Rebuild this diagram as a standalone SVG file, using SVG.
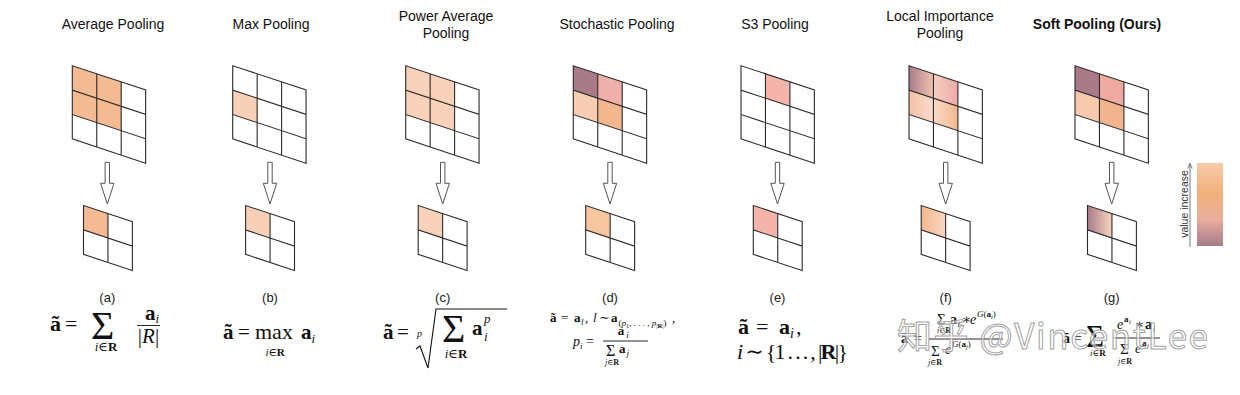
<svg xmlns="http://www.w3.org/2000/svg" xmlns:xlink="http://www.w3.org/1999/xlink" width="1240" height="395" viewBox="0 0 1240 395">
<style>
.title{font-family:"Liberation Sans",Arial,sans-serif;font-size:14px;fill:#111;text-anchor:middle}
.lbl{font-family:"Liberation Sans",Arial,sans-serif;font-size:13px;fill:#222;text-anchor:middle}
.m{font-family:"Liberation Serif","DejaVu Serif",serif;fill:#111}
.b{font-weight:bold}
.i{font-style:italic}
.grid{fill:none;stroke:#2a2a2a;stroke-width:1.1}
.arr{fill:#fff;stroke:#555;stroke-width:1}
.fl{stroke:#111;stroke-width:0.9}
</style>
<defs>
<path id="g3" class="grid" d="M0,0H73.35V73.2H0Z M24.45,0V73.2 M48.9,0V73.2 M0,24.4H73.35 M0,48.8H73.35"/>
<path id="g2" class="grid" d="M0,0H48.9V48.8H0Z M24.45,0V48.8 M0,24.4H48.9"/>
<path id="arr" class="arr" d="M-2.2,162.3H2.2V183.3H6.7L0,204L-6.7,183.3H-2.2Z"/>
<linearGradient id="lip00" x1="0" y1="0" x2="1" y2="0"><stop offset="0" stop-color="#a97b88"/><stop offset="1" stop-color="#f2c3b2"/></linearGradient>
<linearGradient id="lip01" x1="0" y1="0" x2="1" y2="0"><stop offset="0" stop-color="#f5cfc2"/><stop offset="1" stop-color="#eda9a6"/></linearGradient>
<linearGradient id="lip10" x1="0" y1="0" x2="1" y2="0"><stop offset="0" stop-color="#f4c1a5"/><stop offset="1" stop-color="#fadbcb"/></linearGradient>
<linearGradient id="lip11" x1="0" y1="0" x2="1" y2="0"><stop offset="0" stop-color="#fadac7"/><stop offset="1" stop-color="#f2b78e"/></linearGradient>
<linearGradient id="lipout" x1="0" y1="0" x2="1" y2="0"><stop offset="0" stop-color="#f2b88f"/><stop offset="1" stop-color="#f9d7c3"/></linearGradient>
<linearGradient id="softout" x1="0" y1="0" x2="1" y2="0"><stop offset="0" stop-color="#a97b88"/><stop offset="1" stop-color="#f8d4be"/></linearGradient>
<linearGradient id="legend" x1="0" y1="0" x2="0" y2="1"><stop offset="0" stop-color="#f6cbab"/><stop offset="0.35" stop-color="#f1b17b"/><stop offset="0.68" stop-color="#e9ae9c"/><stop offset="1" stop-color="#a57b8a"/></linearGradient>
<marker id="ah" markerWidth="6" markerHeight="6" refX="5" refY="3" orient="auto" markerUnits="userSpaceOnUse"><path d="M0,0.8L5,3L0,5.2" fill="none" stroke="#555" stroke-width="0.8"/></marker>
</defs>
<rect width="1240" height="395" fill="#fff"/>

<g id="connectors">
<use xlink:href="#arr" href="#arr" x="107.3"/>
<use xlink:href="#arr" href="#arr" x="270"/>
<use xlink:href="#arr" href="#arr" x="442.7"/>
<use xlink:href="#arr" href="#arr" x="610"/>
<use xlink:href="#arr" href="#arr" x="777.5"/>
<use xlink:href="#arr" href="#arr" x="945.7"/>
<use xlink:href="#arr" href="#arr" x="1111.7"/>
</g>

<g id="avg-pool">
<text class="title" x="113" y="29">Average Pooling</text>
<g transform="matrix(1 0.331 0 1 72.3 65.7)">
<rect x="0" y="0" width="24.45" height="24.4" fill="#f4ba92"/><rect x="24.45" y="0" width="24.45" height="24.4" fill="#f4ba92"/>
<rect x="0" y="24.4" width="24.45" height="24.4" fill="#f4ba92"/><rect x="24.45" y="24.4" width="24.45" height="24.4" fill="#f4ba92"/>
<use xlink:href="#g3" href="#g3"/></g>
<g transform="matrix(1 0.331 0 1 83.5 205.5)"><rect width="24.45" height="24.4" fill="#f4ba92"/><use xlink:href="#g2" href="#g2"/></g>
<text class="lbl" x="107.3" y="302">(a)</text>
<text class="m b" x="50" y="331" font-size="22">ã</text>
<text class="m" x="65" y="331" font-size="22">=</text>
<text class="m" x="91" y="339" font-size="40">Σ</text>
<text class="m" x="106" y="351" font-size="13" text-anchor="middle"><tspan class="i">i</tspan>∈<tspan class="b">R</tspan></text>
<text class="m" x="145" y="320" font-size="21"><tspan class="b">a</tspan><tspan class="i" font-size="13" y="323">i</tspan></text>
<line class="fl" x1="137" y1="325.5" x2="160" y2="325.5"/>
<text class="m" x="148.5" y="343" font-size="21" text-anchor="middle">|<tspan class="i">R</tspan>|</text>
</g>

<g id="max-pool">
<text class="title" x="271" y="29">Max Pooling</text>
<g transform="matrix(1 0.331 0 1 232.7 65.7)">
<rect x="0" y="24.4" width="24.45" height="24.4" fill="#f8d0b8"/>
<use xlink:href="#g3" href="#g3"/></g>
<g transform="matrix(1 0.331 0 1 245.6 205.5)"><rect width="24.45" height="24.4" fill="#f8d0b8"/><use xlink:href="#g2" href="#g2"/></g>
<text class="lbl" x="270" y="302">(b)</text>
<text class="m b" x="223" y="339" font-size="21">ã</text>
<text class="m" x="238" y="339" font-size="21">=</text>
<text class="m" x="255" y="339" font-size="22">max</text>
<text class="m" x="301" y="339" font-size="21"><tspan class="b">a</tspan><tspan class="i" font-size="13" y="343">i</tspan></text>
<text class="m" x="275" y="356" font-size="11" text-anchor="middle"><tspan class="i">i</tspan>∈<tspan class="b">R</tspan></text>
</g>

<g id="power-avg-pool">
<text class="title" x="446" y="21">Power Average</text>
<text class="title" x="446" y="38">Pooling</text>
<g transform="matrix(1 0.331 0 1 405.7 65.7)">
<rect x="0" y="0" width="24.45" height="24.4" fill="#f8d1bb"/><rect x="24.45" y="0" width="24.45" height="24.4" fill="#f8d1bb"/>
<rect x="0" y="24.4" width="24.45" height="24.4" fill="#f8d1bb"/><rect x="24.45" y="24.4" width="24.45" height="24.4" fill="#f8d1bb"/>
<use xlink:href="#g3" href="#g3"/></g>
<g transform="matrix(1 0.331 0 1 418.2 205.5)"><rect width="24.45" height="24.4" fill="#f8d1bb"/><use xlink:href="#g2" href="#g2"/></g>
<text class="lbl" x="442.7" y="302">(c)</text>
<text class="m b" x="383" y="339" font-size="21">ã</text>
<text class="m" x="397" y="339" font-size="21">=</text>
<path d="M416,349L420,346L428,368L436,309H507" fill="none" stroke="#111" stroke-width="1.1"/>
<text class="m i" x="417" y="337" font-size="10">p</text>
<text class="m" x="442" y="342" font-size="40">Σ</text>
<text class="m b" x="472" y="335" font-size="21">a</text>
<text class="m i" x="484" y="323" font-size="13">p</text>
<text class="m i" x="484" y="341" font-size="13">i</text>
<text class="m" x="456" y="358" font-size="13" text-anchor="middle"><tspan class="i">i</tspan>∈<tspan class="b">R</tspan></text>
</g>

<g id="stochastic-pool">
<text class="title" x="617" y="29">Stochastic Pooling</text>
<g transform="matrix(1 0.331 0 1 573.3 65.7)">
<rect x="0" y="0" width="24.45" height="24.4" fill="#a97b88"/><rect x="24.45" y="0" width="24.45" height="24.4" fill="#f0b0aa"/>
<rect x="0" y="24.4" width="24.45" height="24.4" fill="#f7cdb4"/><rect x="24.45" y="24.4" width="24.45" height="24.4" fill="#f2b78c"/>
<use xlink:href="#g3" href="#g3"/></g>
<g transform="matrix(1 0.331 0 1 585.7 205.5)"><rect width="24.45" height="24.4" fill="#f5c6a0"/><use xlink:href="#g2" href="#g2"/></g>
<text class="lbl" x="610" y="302">(d)</text>
<text class="m b" x="550" y="322" font-size="13">ã</text>
<text class="m" x="561" y="322" font-size="13">=</text>
<text class="m b" x="574" y="322" font-size="13">a</text>
<text class="m i" x="581" y="325" font-size="9">l</text>
<text class="m" x="585" y="322" font-size="13">,</text>
<text class="m i" x="593" y="322" font-size="13">l</text>
<text class="m" x="599" y="322" font-size="13">∼</text>
<text class="m b" x="611" y="322" font-size="13">a</text>
<text class="m" y="326" font-size="9"><tspan x="618.5">(</tspan><tspan class="i">p</tspan><tspan font-size="6.5" y="328">1</tspan><tspan y="326">, . . . , </tspan><tspan class="i">p</tspan><tspan font-size="6.5" y="328">|<tspan class="b">R</tspan>|</tspan><tspan y="326">)</tspan></text>
<text class="m" x="672" y="322" font-size="13">,</text>
<text class="m i" x="573" y="346" font-size="14">p</text>
<text class="m i" x="580" y="349" font-size="9">i</text>
<text class="m" x="586" y="346" font-size="14">=</text>
<text class="m" x="621" y="335" font-size="13" text-anchor="middle"><tspan class="b">a</tspan><tspan class="i" font-size="9" y="338">i</tspan></text>
<line class="fl" x1="603" y1="341" x2="648" y2="341"/>
<text class="m" x="606" y="356" font-size="16">Σ</text>
<text class="m b" x="619" y="353" font-size="13">a</text>
<text class="m i" x="626.5" y="356" font-size="9">j</text>
<text class="m" x="605" y="365" font-size="8"><tspan class="i">j</tspan>∈<tspan class="b">R</tspan></text>
</g>

<g id="s3-pool">
<text class="title" x="775" y="29">S3 Pooling</text>
<g transform="matrix(1 0.331 0 1 741 65.7)">
<rect x="24.45" y="0" width="24.45" height="24.4" fill="#f4b4aa"/>
<use xlink:href="#g3" href="#g3"/></g>
<g transform="matrix(1 0.331 0 1 753.3 205.5)"><rect width="24.45" height="24.4" fill="#f4b4aa"/><use xlink:href="#g2" href="#g2"/></g>
<text class="lbl" x="777.5" y="302">(e)</text>
<text class="m b" x="738" y="334" font-size="22">ã</text>
<text class="m" x="756" y="334" font-size="22">=</text>
<text class="m b" x="779" y="334" font-size="22">a</text>
<text class="m i" x="790" y="338" font-size="14">i</text>
<text class="m" x="796" y="334" font-size="22">,</text>
<text class="m" x="737" y="359" font-size="22" textLength="111" lengthAdjust="spacing"><tspan class="i">i</tspan> ∼ {1 . . . , |<tspan class="b">R</tspan>|}</text>
</g>

<g id="lip-pool">
<text class="title" x="940" y="21">Local Importance</text>
<text class="title" x="940" y="38">Pooling</text>
<g transform="matrix(1 0.331 0 1 909 65.7)">
<rect x="0" y="0" width="24.45" height="24.4" fill="url(#lip00)"/><rect x="24.45" y="0" width="24.45" height="24.4" fill="url(#lip01)"/>
<rect x="0" y="24.4" width="24.45" height="24.4" fill="url(#lip10)"/><rect x="24.45" y="24.4" width="24.45" height="24.4" fill="url(#lip11)"/>
<use xlink:href="#g3" href="#g3"/></g>
<g transform="matrix(1 0.331 0 1 921.2 205.5)"><rect width="24.45" height="24.4" fill="url(#lipout)"/><use xlink:href="#g2" href="#g2"/></g>
<text class="lbl" x="945.7" y="302">(f)</text>
<text class="m b" x="901" y="343" font-size="14">ã</text>
<text class="m" x="914" y="343" font-size="14">=</text>
<text class="m" x="937" y="324" font-size="15">Σ</text>
<text class="m b" x="950" y="324" font-size="14">a</text>
<text class="m i" x="957.5" y="327" font-size="9">i</text>
<text class="m" x="962" y="324" font-size="14">∗</text>
<text class="m i" x="970" y="324" font-size="14">e</text>
<text class="m" x="977" y="317" font-size="9"><tspan class="i">G</tspan>(<tspan class="b">a</tspan><tspan class="i" font-size="6.5" y="319">i</tspan><tspan y="317">)</tspan></text>
<text class="m" x="937" y="333" font-size="8"><tspan class="i">i</tspan>∈<tspan class="b">R</tspan></text>
<line class="fl" x1="929" y1="339" x2="1003" y2="339"/>
<text class="m" x="931" y="356" font-size="15">Σ</text>
<text class="m i" x="945" y="354" font-size="14">e</text>
<text class="m" x="952" y="347" font-size="9"><tspan class="i">G</tspan>(<tspan class="b">a</tspan><tspan class="i" font-size="6.5" y="349">j</tspan><tspan y="347">)</tspan></text>
<text class="m" x="928" y="365" font-size="8"><tspan class="i">j</tspan>∈<tspan class="b">R</tspan></text>
</g>

<g id="soft-pool">
<text class="title b" x="1097" y="29">Soft Pooling (Ours)</text>
<g transform="matrix(1 0.331 0 1 1075 65.7)">
<rect x="0" y="0" width="24.45" height="24.4" fill="#a97b88"/><rect x="24.45" y="0" width="24.45" height="24.4" fill="#eeaaa0"/>
<rect x="0" y="24.4" width="24.45" height="24.4" fill="#f7cab0"/><rect x="24.45" y="24.4" width="24.45" height="24.4" fill="#f2b48c"/>
<use xlink:href="#g3" href="#g3"/></g>
<g transform="matrix(1 0.331 0 1 1087.5 205.5)"><rect width="24.45" height="24.4" fill="url(#softout)"/><use xlink:href="#g2" href="#g2"/></g>
<text class="lbl" x="1111.7" y="302">(g)</text>
<text class="m b" x="1063" y="343" font-size="14">ã</text>
<text class="m" x="1074" y="343" font-size="14">=</text>
<text class="m" x="1086" y="347" font-size="31">Σ</text>
<text class="m" x="1090" y="356" font-size="9"><tspan class="i">i</tspan>∈<tspan class="b">R</tspan></text>
<text class="m i" x="1117" y="329" font-size="14">e</text>
<text class="m b" x="1124" y="322" font-size="9">a</text>
<text class="m i" x="1129" y="324" font-size="6.5">i</text>
<text class="m" x="1135" y="329" font-size="14">∗</text>
<text class="m b" x="1145" y="329" font-size="14">a</text>
<text class="m i" x="1152.5" y="332" font-size="9">i</text>
<line class="fl" x1="1113" y1="338" x2="1160" y2="338"/>
<text class="m" x="1120" y="354" font-size="15">Σ</text>
<text class="m i" x="1135" y="353" font-size="14">e</text>
<text class="m b" x="1142" y="346" font-size="9">a</text>
<text class="m i" x="1147" y="348" font-size="6.5">j</text>
<text class="m" x="1118" y="364" font-size="8"><tspan class="i">j</tspan>∈<tspan class="b">R</tspan></text>
</g>

<g id="legend-bar">
<rect x="1197" y="163" width="26" height="83" fill="url(#legend)"/>
<line x1="1190" y1="247" x2="1190" y2="163.5" stroke="#555" stroke-width="0.8" marker-end="url(#ah)"/>
<text transform="translate(1187.5,204) rotate(-90)" text-anchor="middle" font-family="'Liberation Sans',Arial,sans-serif" font-size="10.5" fill="#333">value increase</text>
</g>

<g id="watermark">
<text x="897" y="349" font-family="'Noto Sans CJK SC','Noto Sans',sans-serif" font-size="35" textLength="311" lengthAdjust="spacing" fill="#fff" fill-opacity="0.6" stroke="#8e8e8e" stroke-width="1" stroke-opacity="0.85">知乎 @VincentLee</text>
</g>
</svg>
